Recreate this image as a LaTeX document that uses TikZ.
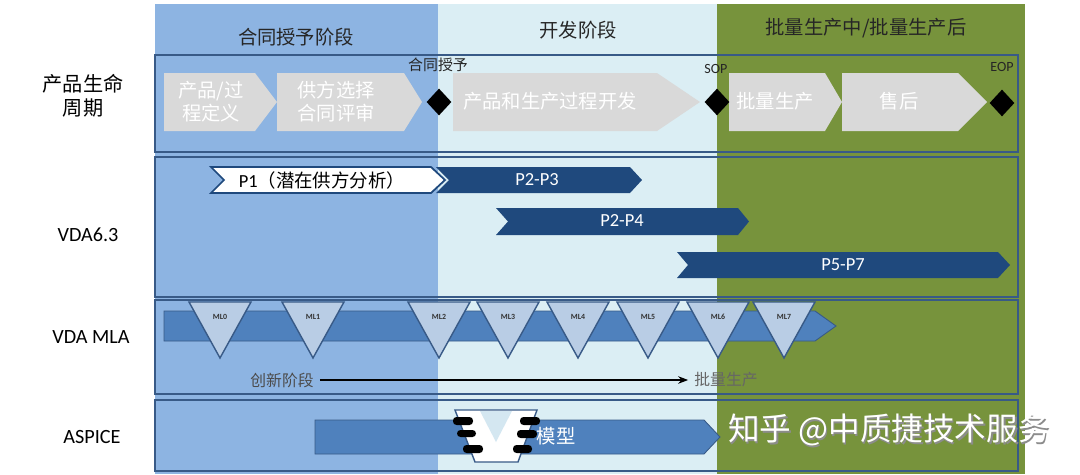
\documentclass[tikz,border=0pt]{standalone}
\usepackage{fontspec}
\setmainfont{Carlito}
\newfontfamily\cjk{Noto Sans CJK SC}
\usepackage{tikz}
\usetikzlibrary{arrows.meta,positioning,calc,shapes.geometric}
\definecolor{phaseblue}{RGB}{141,180,226}
\definecolor{phaselight}{RGB}{219,238,244}
\definecolor{phasegreen}{RGB}{119,147,60}
\definecolor{rowline}{RGB}{56,90,135}
\definecolor{vdadark}{RGB}{31,73,125}
\definecolor{mlablue}{RGB}{79,129,189}
\definecolor{mlatri}{RGB}{185,205,229}
\definecolor{chevgray}{RGB}{217,217,217}
% chevron: style, x left, x right, y top, y bottom, tip, notch
\newcommand{\chevshape}[7]{%
  \path[#1] (#2,#4) -- ({#3-#6},#4) -- (#3,{(#4+#5)/2}) -- ({#3-#6},#5)
    -- (#2,#5) -- ({#2+#7},{(#4+#5)/2}) -- cycle;}

\begin{document}
\begin{tikzpicture}[x=0.02cm,y=-0.02cm,
  rowbox/.style={draw=rowline,line width=1.5pt},
  hdr/.style={font=\cjk\fontsize{11}{13}\selectfont,text=black!85},
  rowlbl/.style={font=\fontsize{11.5}{13.5}\selectfont,align=center},
  chevtxt/.style={font=\cjk\fontsize{11}{13}\selectfont,text=white,align=center},
  milestone/.style={diamond,fill=black,inner sep=0pt,minimum width=0.5cm,minimum height=0.54cm},
  mstxt/.style={font=\fontsize{8}{9}\selectfont,text=black!85},
  vdatxt/.style={font=\fontsize{10.5}{12}\selectfont,text=white},
  mltri/.style={fill=mlatri,draw=rowline,line width=0.8pt},
  mltxt/.style={font=\bfseries\fontsize{4.5}{5}\selectfont,text=black!80},
  blob/.style={fill=black,rounded corners=2pt},
  arr/.style={-{Stealth[length=2mm]},line width=1pt}]
  \useasboundingbox (0,0) rectangle (1080,474);

  % phase columns
  \fill[phaseblue] (155,4) rectangle (438,474);
  \fill[phaselight] (438,4) rectangle (717,474);
  \fill[phasegreen] (717,4) rectangle (1025,474);
  \node[hdr] (hdrA) at (296,37) {\cjk 合同授予阶段};
  \node[hdr] (hdrB) at (578,30) {\cjk 开发阶段};
  \node[hdr] (hdrC) at (866,28) {\cjk 批量生产中/批量生产后};

  % rows
  \draw[rowbox] (155,55) rectangle (1018,152);
  \draw[rowbox] (155,157) rectangle (1018,297);
  \draw[rowbox] (155,300) rectangle (1018,394);
  \draw[rowbox] (155,400) rectangle (1018,471);
  \node[rowlbl] (lblPLC) at (83,96) {\cjk 产品生命\\\cjk 周期};
  \node[rowlbl] (lblVDA) at (88,235) {VDA6.3};
  \node[rowlbl] (lblMLA) at (91,337) {VDA MLA};
  \node[rowlbl] (lblASP) at (92,437) {ASPICE};

  % product life cycle
  \chevshape{fill=chevgray}{164}{277}{73}{131}{22}{0}
  \chevshape{fill=chevgray}{277}{422}{73}{131}{18}{0}
  \chevshape{fill=chevgray}{453}{700}{73}{131}{43}{0}
  \chevshape{fill=chevgray}{729}{842}{73}{131}{17}{0}
  \chevshape{fill=chevgray}{842}{987}{73}{131}{29}{0}
  \node[chevtxt] (cDef) at (211,102) {产品/过\\程定义};
  \node[chevtxt] (cSel) at (336,102) {供方选择\\合同评审};
  \node[chevtxt] (cDev) at (550,101) {产品和生产过程开发};
  \node[chevtxt] (cSer) at (775,101) {批量生产};
  \node[chevtxt] (cAft) at (899,101) {售后};
  \node[milestone] (gate) at (439,102) {};
  \node[milestone] (sop) at (717,102) {};
  \node[milestone] (eop) at (1002,103) {};
  \node[mstxt,font=\cjk\fontsize{8.5}{9}\selectfont] (gateLbl) at (438,65) {合同授予};
  \node[mstxt] (sopLbl) at (716,69) {SOP};
  \node[mstxt] (eopLbl) at (1002,67) {EOP};

  % VDA 6.3
  \chevshape{fill=white,draw=vdadark,line width=1pt}{211}{445}{167}{193}{14}{13}
  \chevshape{fill=vdadark}{436}{642}{167}{193}{12}{13}
  \chevshape{fill=vdadark}{496}{749}{208}{235}{11}{12}
  \chevshape{fill=vdadark}{677}{1010}{252}{278}{12}{11}
  \node[vdatxt,text=black] (vP1) at (322,180) {P1{\cjk（潜在供方分析）}};
  \node[vdatxt] (vP23) at (537,180) {P2-P3};
  \node[vdatxt] (vP24) at (622,221) {P2-P4};
  \node[vdatxt] (vP57) at (843,265) {P5-P7};

  % VDA MLA
  \chevshape{fill=mlablue,draw=rowline,line width=0.5pt}{164}{836}{311}{341}{21}{0}
  \foreach \c/\t in {220/ML0,313/ML1,439/ML2,508/ML3,578/ML4,648/ML5,718/ML6,784/ML7}{
    \draw[mltri] (\c-31,302) -- (\c+31,302) -- (\c,358) -- cycle;
    \node[mltxt] (tri\t) at (\c,317) {\t};
  }
  \node[font=\cjk\fontsize{9}{10}\selectfont,text=black!70] (innov) at (282,380) {创新阶段};
  \node[font=\cjk\fontsize{9}{10}\selectfont,text=black!60] (mass) at (726,380) {批量生产};
  \draw[arr] (innov.east) -- (mass.west);

  % ASPICE
  \chevshape{fill=mlablue,draw=rowline,line width=0.5pt}{315}{720}{420}{454}{16}{0}
  \draw[fill=white,draw=rowline,line width=0.8pt] (455,410) -- (537,410) -- (518,462) -- (475,462) -- cycle;
  \fill[phaselight!80!mlatri] (480,411) -- (512,411) -- (496,442) -- cycle;
  \fill[blob] (453,417) rectangle (473,425);
  \fill[blob] (457,430) rectangle (476,437);
  \fill[blob] (463,445) rectangle (483,453);
  \fill[blob] (520,417) rectangle (540,425);
  \fill[blob] (517,430) rectangle (537,438);
  \fill[blob] (513,445) rectangle (532,453);
  \node[chevtxt] (vmodel) at (556,436) {模型};

  % watermark
  \node[font=\cjk\fontsize{18}{20}\selectfont,text=black!45] (wmShadow) at (890.5,431.5) {知乎 @中质捷技术服务};
  \node[font=\cjk\fontsize{18}{20}\selectfont,text=white] (wm) at (889,430) {知乎 @中质捷技术服务};
\end{tikzpicture}
\end{document}
